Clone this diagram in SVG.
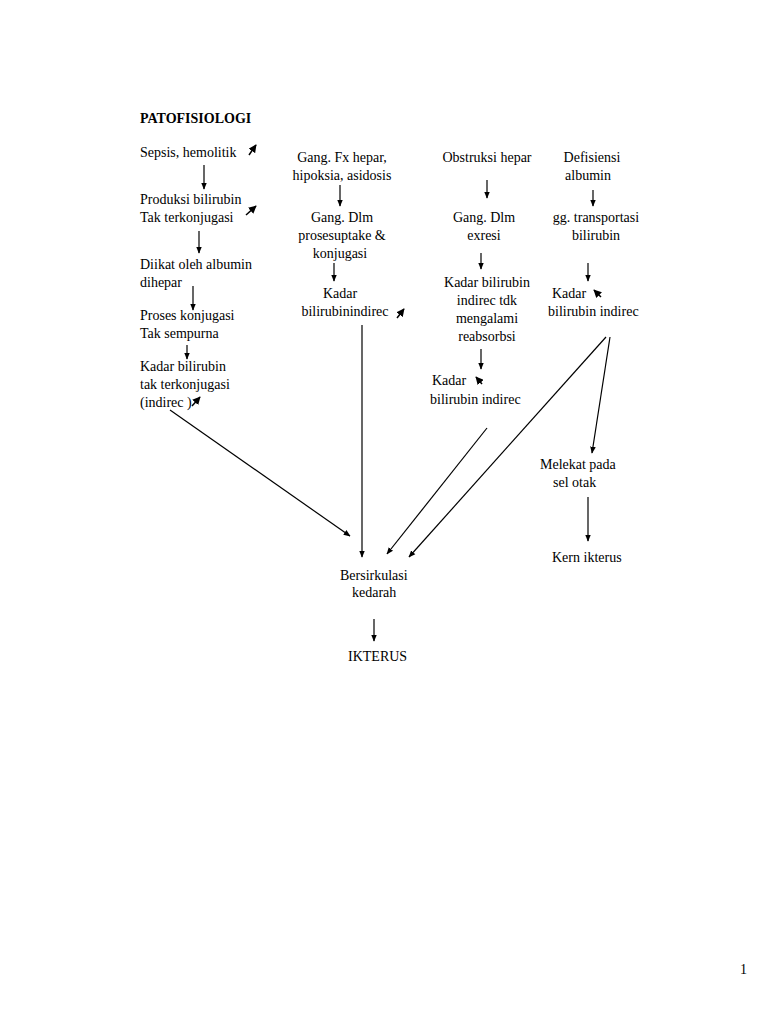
<svg xmlns="http://www.w3.org/2000/svg" width="768" height="1024" viewBox="0 0 768 1024">
<defs>
<marker id="ah" viewBox="0 0 10 10" refX="9" refY="5" markerWidth="7" markerHeight="7" markerUnits="userSpaceOnUse" orient="auto"><path d="M0,1 L10,5 L0,9 z" fill="#000"/></marker>
<marker id="sm" viewBox="0 0 10 10" refX="9" refY="5" markerWidth="8" markerHeight="8" markerUnits="userSpaceOnUse" orient="auto"><path d="M0,0 L10,5 L0,10 z" fill="#000"/></marker>
</defs>
<style>
text{font-family:"Liberation Serif",serif;font-size:14px;fill:#000}
.c{text-anchor:middle}
.l{stroke:#000;stroke-width:1.2;fill:none;marker-end:url(#ah)}
.s{stroke:#000;stroke-width:1.5;fill:none;marker-end:url(#sm)}
</style>
<rect width="768" height="1024" fill="#fff"/>
<text x="140" y="123" style="font-weight:bold">PATOFISIOLOGI</text>
<g id="n1"><text x="140" y="157">Sepsis, hemolitik</text><line class="s" x1="249" y1="155" x2="256" y2="145"/></g>
<g id="n2"><text x="140" y="204">Produksi bilirubin</text><text x="140" y="222">Tak terkonjugasi</text><line class="s" x1="246" y1="215" x2="256" y2="206"/></g>
<g id="n3"><text x="140" y="269">Diikat oleh albumin</text><text x="140" y="287">dihepar</text></g>
<g id="n4"><text x="140" y="320">Proses konjugasi</text><text x="140" y="338">Tak sempurna</text></g>
<g id="n5"><text x="140" y="371">Kadar bilirubin</text><text x="140" y="389">tak  terkonjugasi</text><text x="140" y="407">(indirec    )</text><line class="s" x1="192" y1="406" x2="200" y2="397"/></g>
<g id="n6"><text class="c" x="342" y="162">Gang. Fx hepar,</text><text class="c" x="342" y="180">hipoksia, asidosis</text></g>
<g id="n7"><text class="c" x="342" y="222">Gang. Dlm</text><text class="c" x="342" y="240">prosesuptake &amp;</text><text class="c" x="340" y="258">konjugasi</text></g>
<g id="n8"><text class="c" x="340" y="298">Kadar</text><text class="c" x="345" y="316">bilirubinindirec</text><line class="s" x1="397" y1="318" x2="404" y2="309"/></g>
<g id="n9"><text class="c" x="487" y="162">Obstruksi hepar</text></g>
<g id="n10"><text class="c" x="484" y="222">Gang. Dlm</text><text class="c" x="484" y="240">exresi</text></g>
<g id="n11"><text class="c" x="487" y="287">Kadar bilirubin</text><text class="c" x="487" y="305">indirec tdk</text><text class="c" x="487" y="323">mengalami</text><text class="c" x="487" y="341">reabsorbsi</text></g>
<g id="n12"><text x="432" y="385">Kadar</text><line class="s" x1="482" y1="384" x2="476" y2="377"/><text x="430" y="404">bilirubin indirec</text></g>
<g id="n13"><text class="c" x="592" y="162">Defisiensi</text><text class="c" x="588" y="180">albumin</text></g>
<g id="n14"><text class="c" x="596" y="222">gg. transportasi</text><text class="c" x="596" y="240">bilirubin</text></g>
<g id="n15"><text x="552" y="298">Kadar</text><line class="s" x1="601" y1="297" x2="594" y2="290"/><text x="548" y="316">bilirubin indirec</text></g>
<g id="n16"><text x="540" y="469">Melekat pada</text><text x="553" y="487">sel otak</text></g>
<g id="n17"><text x="552" y="562">Kern ikterus</text></g>
<g id="n18"><text x="340" y="580">Bersirkulasi</text><text x="352" y="597">kedarah</text></g>
<g id="n19"><text x="348" y="661">IKTERUS</text></g>
<text x="740" y="974">1</text>
<g id="connectors">
<line class="l" x1="204" y1="165" x2="204" y2="189"/>
<line class="l" x1="199" y1="231" x2="199" y2="253"/>
<line class="l" x1="193" y1="286" x2="193" y2="310"/>
<line class="l" x1="187" y1="345" x2="187" y2="359"/>
<line class="l" x1="340" y1="185" x2="340" y2="206"/>
<line class="l" x1="334" y1="263" x2="334" y2="281"/>
<line class="l" x1="487" y1="180" x2="487" y2="198"/>
<line class="l" x1="481" y1="253" x2="481" y2="269"/>
<line class="l" x1="481" y1="349" x2="481" y2="369"/>
<line class="l" x1="593" y1="190" x2="593" y2="206"/>
<line class="l" x1="588" y1="263" x2="588" y2="281"/>
<line class="l" x1="170" y1="410" x2="350" y2="536"/>
<line class="l" x1="362" y1="325" x2="362" y2="557"/>
<line class="l" x1="487" y1="428" x2="387" y2="554"/>
<line class="l" x1="606" y1="337" x2="409" y2="557"/>
<line class="l" x1="610" y1="337" x2="592" y2="453"/>
<line class="l" x1="588" y1="497" x2="588" y2="541"/>
<line class="l" x1="374" y1="619" x2="374" y2="641"/>
</g>
</svg>
